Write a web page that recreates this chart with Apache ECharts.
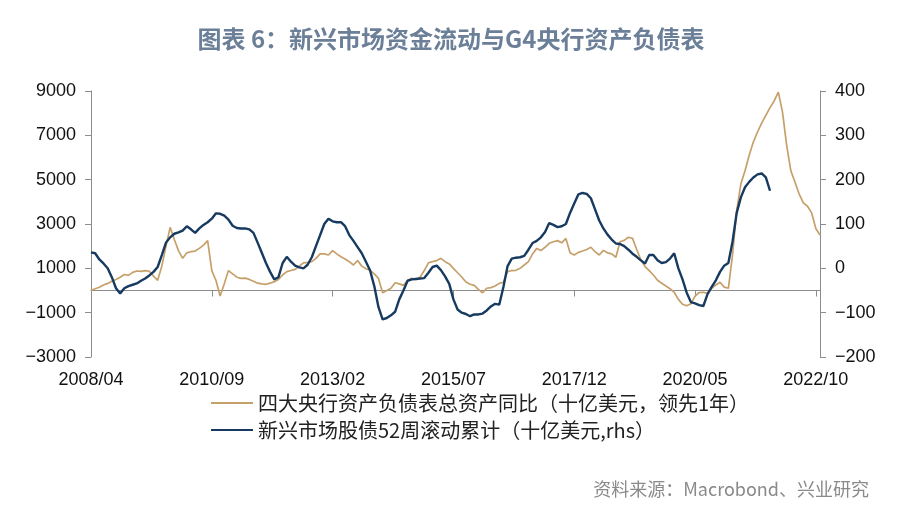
<!DOCTYPE html>
<html>
<head>
<meta charset="utf-8">
<script src="https://cdn.jsdelivr.net/npm/echarts@6/dist/echarts.min.js"></script>
<style>
  html, body { margin: 0; padding: 0; background: #fff; }
  #chart { width: 902px; height: 514px; }
</style>
</head>
<body>
<div id="chart"></div>
<script>
// monthly categories, 2008/04 .. 2022/11
const months = [];
for (let y = 2008, m = 4; months.length < 176; m++) {
  if (m > 12) { m = 1; y++; }
  months.push(y + '/' + String(m).padStart(2, '0'));
}

const leftTicks = [-3000, 9000, 2000];   // min, max, step
const rightTicks = [-200, 400, 100];

// G4 central bank total assets, yoy change, bn USD, led 1 year (lhs)
const cbAssets = [
  0, 80, 150, 250, 320, 420, 500, 600, 720, 680,
  820, 880, 860, 900, 870, 650, 460, 1100, 2000, 2850,
  2300, 1800, 1450, 1700, 1750, 1780, 1900, 2050, 2250, 900,
  450, -250, 300, 900, 750, 600, 550, 560, 500, 420,
  330, 300, 280, 330, 400, 500, 700, 850, 900, 950,
  1100, 1250, 1270, 1300, 1450, 1650, 1650, 1600, 1800, 1650,
  1520, 1420, 1300, 1150, 1350, 1100, 980, 910, 750, 550,
  -100, 0, 100, 350, 300, 230, 450, 550, 500, 600,
  900, 1250, 1300, 1350, 1450, 1300, 1200, 1000, 800, 610,
  380, 280, 230, 50, -100, 100, 130, 200, 320, 370,
  850, 900, 910, 1000, 1150, 1300, 1650, 1900, 1800, 1950,
  2130, 2200, 2250, 2150, 2350, 1700, 1600, 1720, 1780, 1850,
  1950, 1750, 1600, 1810, 1700, 1650, 1500, 2200, 2260, 2400,
  2350, 1850, 1380, 1080, 900, 700, 460, 330, 200, 80,
  -80, -400, -620, -690, -600, -250, -90, -80, -130, 100,
  250, 370, 150, 100, 1600, 3600, 4800, 5400, 6100, 6700,
  7150, 7550, 7900, 8250, 8550, 8950, 8050, 6550, 5400, 4880,
  4350, 3950, 3800, 3500, 2800, 2500
];

// EM equity + bond flows, 52-week rolling sum, bn USD (rhs)
const emFlows = [
  36, 34, 20, 11, 0, -20, -45, -57, -45, -40,
  -37, -34, -28, -23, -16, -8, 3, 30, 58, 70,
  78, 81, 85, 95, 88, 80, 90, 98, 104, 112,
  124, 123, 119, 110, 96, 91, 90, 90, 88, 80,
  58, 35, 12, -8, -25, -20, 12, 26, 15, 6,
  2, 0, 8, 25, 50, 75, 100, 112, 106, 104,
  104, 95, 75, 62, 48, 34, 15, -5, -40, -87,
  -115, -112, -106, -98, -70, -50, -28, -25, -24, -23,
  -22, -10, 3, 6, -4, -18, -35, -70, -93, -100,
  -103, -108, -104, -104, -102, -95, -86, -80, -82, -42,
  5, 22, 24, 25, 28, 42, 57, 62, 70, 82,
  102, 98, 93, 95, 100, 125, 146, 167, 170, 168,
  158, 133, 108, 90, 76, 65, 56, 55, 50, 42,
  33, 26, 18, 11, 30, 30, 18, 12, 14, 22,
  34, 0, -25, -55, -76, -79, -83, -85, -58, -42,
  -27, -8, 6, 12, 60, 125, 160, 183, 195, 205,
  212, 214, 205, 175
];

const seriesNames = [
  '四大央行资产负债表总资产同比（十亿美元，领先1年）',
  '新兴市场股债52周滚动累计（十亿美元,rhs）'
];

const axisGray = '#8c8c8c';
const labelStyle = { color: '#111', fontSize: 18, fontFamily: 'Liberation Sans, Arial, sans-serif' };
const minus = v => String(v).replace('-', '\u2212');

const chart = echarts.init(document.getElementById('chart'));
chart.setOption({
  animation: false,
  title: [
    {
      text: '图表 6：新兴市场资金流动与G4央行资产负债表',
      left: 'center',
      top: 22,
      textStyle: { color: '#6b7f98', fontSize: 24, fontWeight: 'bold', fontFamily: 'Noto Sans CJK SC' }
    },
    {
      text: '资料来源：Macrobond、兴业研究',
      right: 28,
      top: 475,
      textStyle: { color: '#8a8a8a', fontSize: 18, fontWeight: 'normal', fontFamily: 'Noto Sans CJK SC' }
    }
  ],
  legend: {
    orient: 'vertical',
    left: 206,
    top: 388,
    icon: 'rect',
    itemWidth: 42,
    itemHeight: 2,
    itemGap: 7,
    data: seriesNames,
    textStyle: { color: '#222', fontSize: 20, fontFamily: 'Noto Sans CJK SC' }
  },
  grid: { left: 91, right: 82, top: 91, bottom: 157 },
  xAxis: [
    {
      // labels along the bottom edge
      type: 'category',
      data: months,
      boundaryGap: false,
      position: 'bottom',
      axisLine: { show: false, onZero: false },
      axisTick: { show: false },
      axisLabel: { ...labelStyle, interval: 28, margin: 14 },
      splitLine: { show: false }
    },
    {
      // zero line with ticks
      type: 'category',
      data: months,
      boundaryGap: false,
      position: 'bottom',
      axisLine: { onZero: true, onZeroAxisIndex: 0, lineStyle: { color: axisGray, width: 1 } },
      axisTick: { interval: 28, length: 6, lineStyle: { color: axisGray } },
      axisLabel: { show: false },
      splitLine: { show: false }
    }
  ],
  yAxis: [
    {
      type: 'value',
      min: leftTicks[0], max: leftTicks[1], interval: leftTicks[2],
      axisLine: { show: true, onZero: false, lineStyle: { color: axisGray } },
      axisTick: { show: true, length: 6, lineStyle: { color: axisGray } },
      axisLabel: { ...labelStyle, margin: 15, formatter: minus },
      splitLine: { show: false }
    },
    {
      type: 'value',
      position: 'right',
      min: rightTicks[0], max: rightTicks[1], interval: rightTicks[2],
      axisLine: { show: true, onZero: false, lineStyle: { color: axisGray } },
      axisTick: { show: true, length: 6, lineStyle: { color: axisGray } },
      axisLabel: { ...labelStyle, margin: 15, formatter: minus },
      splitLine: { show: false }
    }
  ],
  series: [
    {
      name: seriesNames[0],
      type: 'line',
      yAxisIndex: 0,
      data: cbAssets,
      symbol: 'none',
      lineStyle: { color: '#c6a06a', width: 1.7 },
      itemStyle: { color: '#c6a06a' },
      z: 2
    },
    {
      name: seriesNames[1],
      type: 'line',
      yAxisIndex: 1,
      data: emFlows,
      symbol: 'none',
      lineStyle: { color: '#173a60', width: 2.4 },
      itemStyle: { color: '#173a60' },
      z: 3
    }
  ]
});
</script>
</body>
</html>
